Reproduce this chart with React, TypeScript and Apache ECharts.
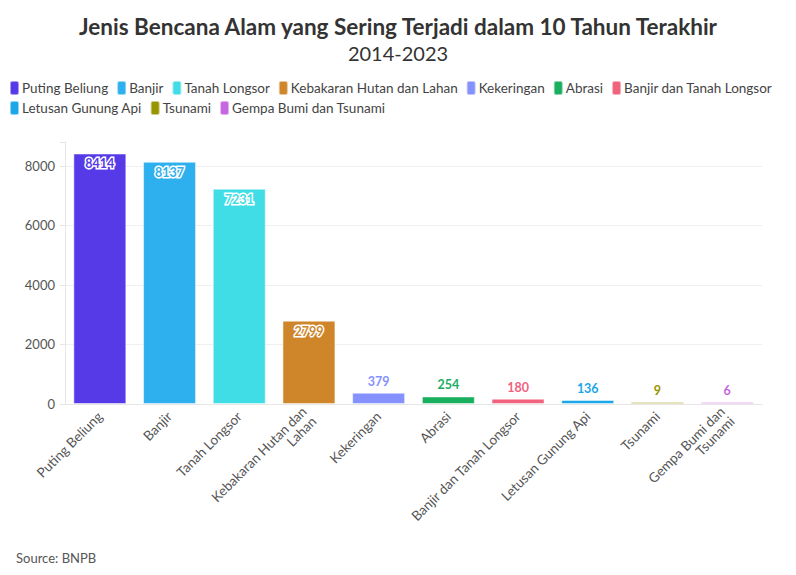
import React, { useEffect, useRef } from "react";
import * as echarts from "echarts";

const categories = [
  "Puting Beliung",
  "Banjir",
  "Tanah Longsor",
  "Kebakaran Hutan dan Lahan",
  "Kekeringan",
  "Abrasi",
  "Banjir dan Tanah Longsor",
  "Letusan Gunung Api",
  "Tsunami",
  "Gempa Bumi dan Tsunami",
];
const axisLabels = [
  "Puting Beliung",
  "Banjir",
  "Tanah Longsor",
  "Kebakaran Hutan dan\nLahan",
  "Kekeringan",
  "Abrasi",
  "Banjir dan Tanah Longsor",
  "Letusan Gunung Api",
  "Tsunami",
  "Gempa Bumi dan\nTsunami",
];
const values = [8414, 8137, 7231, 2799, 379, 254, 180, 136, 9, 6];
const colors = [
  "#563ae8",
  "#2fb0ee",
  "#40dde6",
  "#cf862b",
  "#8591fc",
  "#1aae5f",
  "#f1627f",
  "#1ba6e8",
  "#989400",
  "#c767e0",
];
const insideThreshold = 1000;
const yTicks = [0, 2000, 4000, 6000, 8000];

const FONT = "Lato, 'Noto Sans', sans-serif";

export default function App() {
  const ref = useRef<HTMLDivElement>(null);
  useEffect(() => {
    document.body.style.margin = "0";
    const chart = echarts.init(ref.current!, undefined, { renderer: "svg" });
    const series = categories.map((name, i) => {
      const inside = values[i] > insideThreshold;
      return {
        name,
        type: "bar",
        stack: "all",
        barWidth: "76%",
        barMinHeight: 2,
        itemStyle: { color: colors[i], borderColor: "rgba(255,255,255,0.5)", borderWidth: 1 },
        data: values.map((v, j) => (j === i ? v : null)),
        label: {
          show: true,
          position: inside ? "insideTop" : "top",
          distance: inside ? 4 : 5,
          color: colors[i],
          fontWeight: "bold",
          fontSize: 12.5,
          fontFamily: FONT,
          textBorderColor: inside ? "#fff" : "transparent",
          textBorderWidth: inside ? 3 : 0,
        },
      };
    });
    chart.setOption({
      animation: false,
      textStyle: { fontFamily: FONT },
      title: [
        {
          text: "Jenis Bencana Alam yang Sering Terjadi dalam 10 Tahun Terakhir",
          left: "center",
          top: 10,
          textStyle: { fontSize: 22.5, fontWeight: "bold", color: "#333", fontFamily: FONT },
        },
        {
          text: "2014-2023",
          left: "center",
          top: 38,
          textStyle: { fontSize: 20, fontWeight: "normal", color: "#333", fontFamily: FONT },
        },
        {
          text: "Source: BNPB",
          left: 11,
          top: 546,
          textStyle: { fontSize: 13, fontWeight: "normal", color: "#555", fontFamily: FONT },
        },
      ],
      legend: {
        data: categories,
        left: 9,
        right: 15,
        top: 80,
        icon: "roundRect",
        itemWidth: 9,
        itemHeight: 14,
        itemGap: 4,
        padding: 0,
        textStyle: {
          fontSize: 13.5,
          lineHeight: 13,
          color: "#444",
          fontFamily: FONT,
          padding: [0, 4, 0, -2],
        },
      },
      grid: { left: 65, right: 34, top: 142, bottom: 171 },
      xAxis: {
        type: "category",
        data: axisLabels,
        axisLine: { lineStyle: { color: "#e6e6e6" } },
        axisTick: { show: false },
        axisLabel: {
          rotate: 45,
          interval: 0,
          color: "#555",
          fontSize: 13.5,
          fontFamily: FONT,
          margin: 10,
        },
      },
      yAxis: {
        type: "value",
        min: 0,
        max: 8800,
        interval: 2000,
        axisLine: { show: true, lineStyle: { color: "#e6e6e6" } },
        axisTick: { show: true, length: 5, lineStyle: { color: "#e6e6e6" } },
        axisLabel: {
          color: "#555",
          fontSize: 13,
          fontFamily: FONT,
          margin: 10,
          formatter: (v: number) => (yTicks.includes(v) ? String(v) : ""),
        },
        splitLine: {
          lineStyle: {
            color: ["#efefef", "#efefef", "#efefef", "#efefef", "#efefef", "rgba(0,0,0,0)"],
          },
        },
      },
      series,
    });
    return () => chart.dispose();
  }, []);
  return <div ref={ref} style={{ width: 796, height: 575 }} />;
}
